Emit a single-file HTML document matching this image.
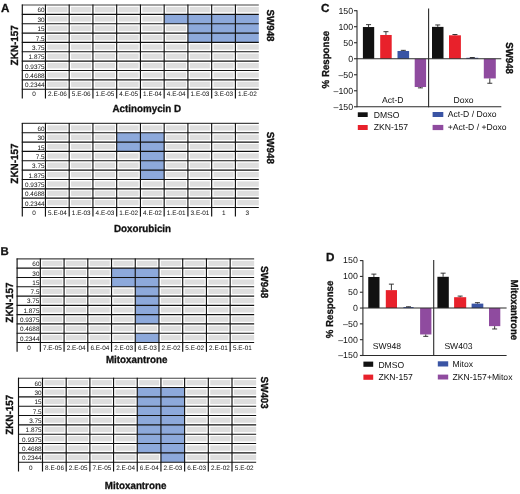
<!DOCTYPE html>
<html><head><meta charset="utf-8"><title>Figure</title>
<style>
html,body{margin:0;padding:0;background:#fff;}
body{width:520px;height:494px;overflow:hidden;}
svg{display:block;font-family:"Liberation Sans", Arial, sans-serif;text-rendering:geometricPrecision;}
</style></head><body>
<svg width="520" height="494" viewBox="0 0 520 494">
<rect width="520" height="494" fill="#fff"/>
<rect x="47.35" y="6.90" width="20.09" height="5.36" fill="#dedede"/>
<rect x="71.09" y="6.90" width="20.09" height="5.36" fill="#dedede"/>
<rect x="94.84" y="6.90" width="20.09" height="5.36" fill="#dedede"/>
<rect x="118.58" y="6.90" width="20.09" height="5.36" fill="#dedede"/>
<rect x="142.33" y="6.90" width="20.09" height="5.36" fill="#dedede"/>
<rect x="166.07" y="6.90" width="20.09" height="5.36" fill="#dedede"/>
<rect x="189.81" y="6.90" width="20.09" height="5.36" fill="#dedede"/>
<rect x="213.56" y="6.90" width="20.09" height="5.36" fill="#dedede"/>
<rect x="237.30" y="6.90" width="21.50" height="5.36" fill="#dedede"/>
<rect x="47.35" y="16.26" width="20.09" height="5.36" fill="#dedede"/>
<rect x="71.09" y="16.26" width="20.09" height="5.36" fill="#dedede"/>
<rect x="94.84" y="16.26" width="20.09" height="5.36" fill="#dedede"/>
<rect x="118.58" y="16.26" width="20.09" height="5.36" fill="#dedede"/>
<rect x="142.33" y="16.26" width="20.09" height="5.36" fill="#dedede"/>
<rect x="164.17" y="14.36" width="23.74" height="9.36" fill="#8da9db"/>
<rect x="187.91" y="14.36" width="23.74" height="9.36" fill="#8da9db"/>
<rect x="211.66" y="14.36" width="23.74" height="9.36" fill="#8da9db"/>
<rect x="235.40" y="14.36" width="23.40" height="9.36" fill="#8da9db"/>
<rect x="47.35" y="25.61" width="20.09" height="5.36" fill="#dedede"/>
<rect x="71.09" y="25.61" width="20.09" height="5.36" fill="#dedede"/>
<rect x="94.84" y="25.61" width="20.09" height="5.36" fill="#dedede"/>
<rect x="118.58" y="25.61" width="20.09" height="5.36" fill="#dedede"/>
<rect x="142.33" y="25.61" width="20.09" height="5.36" fill="#dedede"/>
<rect x="166.07" y="25.61" width="20.09" height="5.36" fill="#dedede"/>
<rect x="187.91" y="23.71" width="23.74" height="9.36" fill="#8da9db"/>
<rect x="211.66" y="23.71" width="23.74" height="9.36" fill="#8da9db"/>
<rect x="235.40" y="23.71" width="23.40" height="9.36" fill="#8da9db"/>
<rect x="47.35" y="34.97" width="20.09" height="5.36" fill="#dedede"/>
<rect x="71.09" y="34.97" width="20.09" height="5.36" fill="#dedede"/>
<rect x="94.84" y="34.97" width="20.09" height="5.36" fill="#dedede"/>
<rect x="118.58" y="34.97" width="20.09" height="5.36" fill="#dedede"/>
<rect x="142.33" y="34.97" width="20.09" height="5.36" fill="#dedede"/>
<rect x="166.07" y="34.97" width="20.09" height="5.36" fill="#dedede"/>
<rect x="187.91" y="33.07" width="23.74" height="9.36" fill="#8da9db"/>
<rect x="211.66" y="33.07" width="23.74" height="9.36" fill="#8da9db"/>
<rect x="235.40" y="33.07" width="23.40" height="9.36" fill="#8da9db"/>
<rect x="47.35" y="44.32" width="20.09" height="5.36" fill="#dedede"/>
<rect x="71.09" y="44.32" width="20.09" height="5.36" fill="#dedede"/>
<rect x="94.84" y="44.32" width="20.09" height="5.36" fill="#dedede"/>
<rect x="118.58" y="44.32" width="20.09" height="5.36" fill="#dedede"/>
<rect x="142.33" y="44.32" width="20.09" height="5.36" fill="#dedede"/>
<rect x="166.07" y="44.32" width="20.09" height="5.36" fill="#dedede"/>
<rect x="189.81" y="44.32" width="20.09" height="5.36" fill="#dedede"/>
<rect x="213.56" y="44.32" width="20.09" height="5.36" fill="#dedede"/>
<rect x="237.30" y="44.32" width="21.50" height="5.36" fill="#dedede"/>
<rect x="47.35" y="53.68" width="20.09" height="5.36" fill="#dedede"/>
<rect x="71.09" y="53.68" width="20.09" height="5.36" fill="#dedede"/>
<rect x="94.84" y="53.68" width="20.09" height="5.36" fill="#dedede"/>
<rect x="118.58" y="53.68" width="20.09" height="5.36" fill="#dedede"/>
<rect x="142.33" y="53.68" width="20.09" height="5.36" fill="#dedede"/>
<rect x="166.07" y="53.68" width="20.09" height="5.36" fill="#dedede"/>
<rect x="189.81" y="53.68" width="20.09" height="5.36" fill="#dedede"/>
<rect x="213.56" y="53.68" width="20.09" height="5.36" fill="#dedede"/>
<rect x="237.30" y="53.68" width="21.50" height="5.36" fill="#dedede"/>
<rect x="47.35" y="63.03" width="20.09" height="5.36" fill="#dedede"/>
<rect x="71.09" y="63.03" width="20.09" height="5.36" fill="#dedede"/>
<rect x="94.84" y="63.03" width="20.09" height="5.36" fill="#dedede"/>
<rect x="118.58" y="63.03" width="20.09" height="5.36" fill="#dedede"/>
<rect x="142.33" y="63.03" width="20.09" height="5.36" fill="#dedede"/>
<rect x="166.07" y="63.03" width="20.09" height="5.36" fill="#dedede"/>
<rect x="189.81" y="63.03" width="20.09" height="5.36" fill="#dedede"/>
<rect x="213.56" y="63.03" width="20.09" height="5.36" fill="#dedede"/>
<rect x="237.30" y="63.03" width="21.50" height="5.36" fill="#dedede"/>
<rect x="47.35" y="72.39" width="20.09" height="5.36" fill="#dedede"/>
<rect x="71.09" y="72.39" width="20.09" height="5.36" fill="#dedede"/>
<rect x="94.84" y="72.39" width="20.09" height="5.36" fill="#dedede"/>
<rect x="118.58" y="72.39" width="20.09" height="5.36" fill="#dedede"/>
<rect x="142.33" y="72.39" width="20.09" height="5.36" fill="#dedede"/>
<rect x="166.07" y="72.39" width="20.09" height="5.36" fill="#dedede"/>
<rect x="189.81" y="72.39" width="20.09" height="5.36" fill="#dedede"/>
<rect x="213.56" y="72.39" width="20.09" height="5.36" fill="#dedede"/>
<rect x="237.30" y="72.39" width="21.50" height="5.36" fill="#dedede"/>
<rect x="47.35" y="81.74" width="20.09" height="5.36" fill="#dedede"/>
<rect x="71.09" y="81.74" width="20.09" height="5.36" fill="#dedede"/>
<rect x="94.84" y="81.74" width="20.09" height="5.36" fill="#dedede"/>
<rect x="118.58" y="81.74" width="20.09" height="5.36" fill="#dedede"/>
<rect x="142.33" y="81.74" width="20.09" height="5.36" fill="#dedede"/>
<rect x="166.07" y="81.74" width="20.09" height="5.36" fill="#dedede"/>
<rect x="189.81" y="81.74" width="20.09" height="5.36" fill="#dedede"/>
<rect x="213.56" y="81.74" width="20.09" height="5.36" fill="#dedede"/>
<rect x="237.30" y="81.74" width="21.50" height="5.36" fill="#dedede"/>
<line x1="21.80" y1="5.00" x2="258.80" y2="5.00" stroke="#444" stroke-width="1.15"/>
<line x1="21.80" y1="14.36" x2="258.80" y2="14.36" stroke="#111" stroke-width="1.15"/>
<line x1="21.80" y1="23.71" x2="258.80" y2="23.71" stroke="#111" stroke-width="1.15"/>
<line x1="21.80" y1="33.07" x2="258.80" y2="33.07" stroke="#111" stroke-width="1.15"/>
<line x1="21.80" y1="42.42" x2="258.80" y2="42.42" stroke="#111" stroke-width="1.15"/>
<line x1="21.80" y1="51.78" x2="258.80" y2="51.78" stroke="#111" stroke-width="1.15"/>
<line x1="21.80" y1="61.13" x2="258.80" y2="61.13" stroke="#111" stroke-width="1.15"/>
<line x1="21.80" y1="70.49" x2="258.80" y2="70.49" stroke="#111" stroke-width="1.15"/>
<line x1="21.80" y1="79.84" x2="258.80" y2="79.84" stroke="#111" stroke-width="1.15"/>
<line x1="21.80" y1="89.20" x2="258.80" y2="89.20" stroke="#111" stroke-width="1.15"/>
<line x1="22.30" y1="4.50" x2="22.30" y2="98.50" stroke="#111" stroke-width="1.15"/>
<line x1="45.45" y1="4.50" x2="45.45" y2="98.50" stroke="#111" stroke-width="1.15"/>
<line x1="69.19" y1="4.50" x2="69.19" y2="98.50" stroke="#111" stroke-width="1.15"/>
<line x1="92.94" y1="4.50" x2="92.94" y2="98.50" stroke="#111" stroke-width="1.15"/>
<line x1="116.68" y1="4.50" x2="116.68" y2="98.50" stroke="#111" stroke-width="1.15"/>
<line x1="140.43" y1="4.50" x2="140.43" y2="98.50" stroke="#111" stroke-width="1.15"/>
<line x1="164.17" y1="4.50" x2="164.17" y2="98.50" stroke="#111" stroke-width="1.15"/>
<line x1="187.91" y1="4.50" x2="187.91" y2="98.50" stroke="#111" stroke-width="1.15"/>
<line x1="211.66" y1="4.50" x2="211.66" y2="98.50" stroke="#111" stroke-width="1.15"/>
<line x1="235.40" y1="4.50" x2="235.40" y2="98.50" stroke="#111" stroke-width="1.15"/>
<text x="44.55" y="12.46" font-size="6.4" text-anchor="end" fill="#111">60</text>
<text x="44.55" y="21.81" font-size="6.4" text-anchor="end" fill="#111">30</text>
<text x="44.55" y="31.17" font-size="6.4" text-anchor="end" fill="#111">15</text>
<text x="44.55" y="40.52" font-size="6.4" text-anchor="end" fill="#111">7.5</text>
<text x="44.55" y="49.88" font-size="6.4" text-anchor="end" fill="#111">3.75</text>
<text x="44.55" y="59.23" font-size="6.4" text-anchor="end" fill="#111">1.875</text>
<text x="44.55" y="68.59" font-size="6.4" text-anchor="end" fill="#111">0.9375</text>
<text x="44.55" y="77.94" font-size="6.4" text-anchor="end" fill="#111">0.4688</text>
<text x="44.55" y="87.30" font-size="6.4" text-anchor="end" fill="#111">0.2344</text>
<text x="34.08" y="96.30" font-size="6.4" text-anchor="middle" fill="#111">0</text>
<text x="57.52" y="96.30" font-size="6.4" text-anchor="middle" fill="#111">2.E-06</text>
<text x="81.27" y="96.30" font-size="6.4" text-anchor="middle" fill="#111">5.E-06</text>
<text x="105.01" y="96.30" font-size="6.4" text-anchor="middle" fill="#111">1.E-05</text>
<text x="128.75" y="96.30" font-size="6.4" text-anchor="middle" fill="#111">4.E-05</text>
<text x="152.50" y="96.30" font-size="6.4" text-anchor="middle" fill="#111">1.E-04</text>
<text x="176.24" y="96.30" font-size="6.4" text-anchor="middle" fill="#111">4.E-04</text>
<text x="199.98" y="96.30" font-size="6.4" text-anchor="middle" fill="#111">1.E-03</text>
<text x="223.73" y="96.30" font-size="6.4" text-anchor="middle" fill="#111">3.E-03</text>
<text x="247.30" y="96.30" font-size="6.4" text-anchor="middle" fill="#111">1.E-02</text>
<text transform="translate(267.30,9.40) rotate(90) scale(1.0,1.045)" font-size="9.8" font-weight="bold" stroke="#111" stroke-width="0.3" fill="#111">SW948</text>
<text transform="translate(17.90,45.35) rotate(-90) scale(1.0,1.045)" font-size="9.9" font-weight="bold" stroke="#111" stroke-width="0.3" text-anchor="middle" fill="#111">ZKN-157</text>
<text transform="translate(146.80,111.80) scale(1.0,1.045)" font-size="9.8" font-weight="bold" stroke="#111" stroke-width="0.3" text-anchor="middle" fill="#111">Actinomycin D</text>
<rect x="47.35" y="125.30" width="20.09" height="5.34" fill="#dedede"/>
<rect x="71.09" y="125.30" width="20.09" height="5.34" fill="#dedede"/>
<rect x="94.84" y="125.30" width="20.09" height="5.34" fill="#dedede"/>
<rect x="118.58" y="125.30" width="20.09" height="5.34" fill="#dedede"/>
<rect x="142.33" y="125.30" width="20.09" height="5.34" fill="#dedede"/>
<rect x="166.07" y="125.30" width="20.09" height="5.34" fill="#dedede"/>
<rect x="189.81" y="125.30" width="20.09" height="5.34" fill="#dedede"/>
<rect x="213.56" y="125.30" width="20.09" height="5.34" fill="#dedede"/>
<rect x="237.30" y="125.30" width="21.50" height="5.34" fill="#dedede"/>
<rect x="47.35" y="134.64" width="20.09" height="5.34" fill="#dedede"/>
<rect x="71.09" y="134.64" width="20.09" height="5.34" fill="#dedede"/>
<rect x="94.84" y="134.64" width="20.09" height="5.34" fill="#dedede"/>
<rect x="116.68" y="132.74" width="23.74" height="9.34" fill="#8da9db"/>
<rect x="140.43" y="132.74" width="23.74" height="9.34" fill="#8da9db"/>
<rect x="166.07" y="134.64" width="20.09" height="5.34" fill="#dedede"/>
<rect x="189.81" y="134.64" width="20.09" height="5.34" fill="#dedede"/>
<rect x="213.56" y="134.64" width="20.09" height="5.34" fill="#dedede"/>
<rect x="237.30" y="134.64" width="21.50" height="5.34" fill="#dedede"/>
<rect x="47.35" y="143.99" width="20.09" height="5.34" fill="#dedede"/>
<rect x="71.09" y="143.99" width="20.09" height="5.34" fill="#dedede"/>
<rect x="94.84" y="143.99" width="20.09" height="5.34" fill="#dedede"/>
<rect x="116.68" y="142.09" width="23.74" height="9.34" fill="#8da9db"/>
<rect x="140.43" y="142.09" width="23.74" height="9.34" fill="#8da9db"/>
<rect x="166.07" y="143.99" width="20.09" height="5.34" fill="#dedede"/>
<rect x="189.81" y="143.99" width="20.09" height="5.34" fill="#dedede"/>
<rect x="213.56" y="143.99" width="20.09" height="5.34" fill="#dedede"/>
<rect x="237.30" y="143.99" width="21.50" height="5.34" fill="#dedede"/>
<rect x="47.35" y="153.33" width="20.09" height="5.34" fill="#dedede"/>
<rect x="71.09" y="153.33" width="20.09" height="5.34" fill="#dedede"/>
<rect x="94.84" y="153.33" width="20.09" height="5.34" fill="#dedede"/>
<rect x="118.58" y="153.33" width="20.09" height="5.34" fill="#dedede"/>
<rect x="140.43" y="151.43" width="23.74" height="9.34" fill="#8da9db"/>
<rect x="166.07" y="153.33" width="20.09" height="5.34" fill="#dedede"/>
<rect x="189.81" y="153.33" width="20.09" height="5.34" fill="#dedede"/>
<rect x="213.56" y="153.33" width="20.09" height="5.34" fill="#dedede"/>
<rect x="237.30" y="153.33" width="21.50" height="5.34" fill="#dedede"/>
<rect x="47.35" y="162.68" width="20.09" height="5.34" fill="#dedede"/>
<rect x="71.09" y="162.68" width="20.09" height="5.34" fill="#dedede"/>
<rect x="94.84" y="162.68" width="20.09" height="5.34" fill="#dedede"/>
<rect x="118.58" y="162.68" width="20.09" height="5.34" fill="#dedede"/>
<rect x="140.43" y="160.78" width="23.74" height="9.34" fill="#8da9db"/>
<rect x="166.07" y="162.68" width="20.09" height="5.34" fill="#dedede"/>
<rect x="189.81" y="162.68" width="20.09" height="5.34" fill="#dedede"/>
<rect x="213.56" y="162.68" width="20.09" height="5.34" fill="#dedede"/>
<rect x="237.30" y="162.68" width="21.50" height="5.34" fill="#dedede"/>
<rect x="47.35" y="172.02" width="20.09" height="5.34" fill="#dedede"/>
<rect x="71.09" y="172.02" width="20.09" height="5.34" fill="#dedede"/>
<rect x="94.84" y="172.02" width="20.09" height="5.34" fill="#dedede"/>
<rect x="118.58" y="172.02" width="20.09" height="5.34" fill="#dedede"/>
<rect x="140.43" y="170.12" width="23.74" height="9.34" fill="#8da9db"/>
<rect x="166.07" y="172.02" width="20.09" height="5.34" fill="#dedede"/>
<rect x="189.81" y="172.02" width="20.09" height="5.34" fill="#dedede"/>
<rect x="213.56" y="172.02" width="20.09" height="5.34" fill="#dedede"/>
<rect x="237.30" y="172.02" width="21.50" height="5.34" fill="#dedede"/>
<rect x="47.35" y="181.37" width="20.09" height="5.34" fill="#dedede"/>
<rect x="71.09" y="181.37" width="20.09" height="5.34" fill="#dedede"/>
<rect x="94.84" y="181.37" width="20.09" height="5.34" fill="#dedede"/>
<rect x="118.58" y="181.37" width="20.09" height="5.34" fill="#dedede"/>
<rect x="142.33" y="181.37" width="20.09" height="5.34" fill="#dedede"/>
<rect x="166.07" y="181.37" width="20.09" height="5.34" fill="#dedede"/>
<rect x="189.81" y="181.37" width="20.09" height="5.34" fill="#dedede"/>
<rect x="213.56" y="181.37" width="20.09" height="5.34" fill="#dedede"/>
<rect x="237.30" y="181.37" width="21.50" height="5.34" fill="#dedede"/>
<rect x="47.35" y="190.71" width="20.09" height="5.34" fill="#dedede"/>
<rect x="71.09" y="190.71" width="20.09" height="5.34" fill="#dedede"/>
<rect x="94.84" y="190.71" width="20.09" height="5.34" fill="#dedede"/>
<rect x="118.58" y="190.71" width="20.09" height="5.34" fill="#dedede"/>
<rect x="142.33" y="190.71" width="20.09" height="5.34" fill="#dedede"/>
<rect x="166.07" y="190.71" width="20.09" height="5.34" fill="#dedede"/>
<rect x="189.81" y="190.71" width="20.09" height="5.34" fill="#dedede"/>
<rect x="213.56" y="190.71" width="20.09" height="5.34" fill="#dedede"/>
<rect x="237.30" y="190.71" width="21.50" height="5.34" fill="#dedede"/>
<rect x="47.35" y="200.06" width="20.09" height="5.34" fill="#dedede"/>
<rect x="71.09" y="200.06" width="20.09" height="5.34" fill="#dedede"/>
<rect x="94.84" y="200.06" width="20.09" height="5.34" fill="#dedede"/>
<rect x="118.58" y="200.06" width="20.09" height="5.34" fill="#dedede"/>
<rect x="142.33" y="200.06" width="20.09" height="5.34" fill="#dedede"/>
<rect x="166.07" y="200.06" width="20.09" height="5.34" fill="#dedede"/>
<rect x="189.81" y="200.06" width="20.09" height="5.34" fill="#dedede"/>
<rect x="213.56" y="200.06" width="20.09" height="5.34" fill="#dedede"/>
<rect x="237.30" y="200.06" width="21.50" height="5.34" fill="#dedede"/>
<line x1="21.80" y1="123.40" x2="258.80" y2="123.40" stroke="#444" stroke-width="1.15"/>
<line x1="21.80" y1="132.74" x2="258.80" y2="132.74" stroke="#111" stroke-width="1.15"/>
<line x1="21.80" y1="142.09" x2="258.80" y2="142.09" stroke="#111" stroke-width="1.15"/>
<line x1="21.80" y1="151.43" x2="258.80" y2="151.43" stroke="#111" stroke-width="1.15"/>
<line x1="21.80" y1="160.78" x2="258.80" y2="160.78" stroke="#111" stroke-width="1.15"/>
<line x1="21.80" y1="170.12" x2="258.80" y2="170.12" stroke="#111" stroke-width="1.15"/>
<line x1="21.80" y1="179.47" x2="258.80" y2="179.47" stroke="#111" stroke-width="1.15"/>
<line x1="21.80" y1="188.81" x2="258.80" y2="188.81" stroke="#111" stroke-width="1.15"/>
<line x1="21.80" y1="198.16" x2="258.80" y2="198.16" stroke="#111" stroke-width="1.15"/>
<line x1="21.80" y1="207.50" x2="258.80" y2="207.50" stroke="#111" stroke-width="1.15"/>
<line x1="22.30" y1="122.90" x2="22.30" y2="216.60" stroke="#111" stroke-width="1.15"/>
<line x1="45.45" y1="122.90" x2="45.45" y2="216.60" stroke="#111" stroke-width="1.15"/>
<line x1="69.19" y1="122.90" x2="69.19" y2="216.60" stroke="#111" stroke-width="1.15"/>
<line x1="92.94" y1="122.90" x2="92.94" y2="216.60" stroke="#111" stroke-width="1.15"/>
<line x1="116.68" y1="122.90" x2="116.68" y2="216.60" stroke="#111" stroke-width="1.15"/>
<line x1="140.43" y1="122.90" x2="140.43" y2="216.60" stroke="#111" stroke-width="1.15"/>
<line x1="164.17" y1="122.90" x2="164.17" y2="216.60" stroke="#111" stroke-width="1.15"/>
<line x1="187.91" y1="122.90" x2="187.91" y2="216.60" stroke="#111" stroke-width="1.15"/>
<line x1="211.66" y1="122.90" x2="211.66" y2="216.60" stroke="#111" stroke-width="1.15"/>
<line x1="235.40" y1="122.90" x2="235.40" y2="216.60" stroke="#111" stroke-width="1.15"/>
<text x="44.55" y="130.84" font-size="6.4" text-anchor="end" fill="#111">60</text>
<text x="44.55" y="140.19" font-size="6.4" text-anchor="end" fill="#111">30</text>
<text x="44.55" y="149.53" font-size="6.4" text-anchor="end" fill="#111">15</text>
<text x="44.55" y="158.88" font-size="6.4" text-anchor="end" fill="#111">7.5</text>
<text x="44.55" y="168.22" font-size="6.4" text-anchor="end" fill="#111">3.75</text>
<text x="44.55" y="177.57" font-size="6.4" text-anchor="end" fill="#111">1.875</text>
<text x="44.55" y="186.91" font-size="6.4" text-anchor="end" fill="#111">0.9375</text>
<text x="44.55" y="196.26" font-size="6.4" text-anchor="end" fill="#111">0.4688</text>
<text x="44.55" y="205.60" font-size="6.4" text-anchor="end" fill="#111">0.2344</text>
<text x="34.08" y="215.30" font-size="6.4" text-anchor="middle" fill="#111">0</text>
<text x="57.52" y="215.30" font-size="6.4" text-anchor="middle" fill="#111">5.E-04</text>
<text x="81.27" y="215.30" font-size="6.4" text-anchor="middle" fill="#111">1.E-03</text>
<text x="105.01" y="215.30" font-size="6.4" text-anchor="middle" fill="#111">4.E-03</text>
<text x="128.75" y="215.30" font-size="6.4" text-anchor="middle" fill="#111">1.E-02</text>
<text x="152.50" y="215.30" font-size="6.4" text-anchor="middle" fill="#111">4.E-02</text>
<text x="176.24" y="215.30" font-size="6.4" text-anchor="middle" fill="#111">1.E-01</text>
<text x="199.98" y="215.30" font-size="6.4" text-anchor="middle" fill="#111">3.E-01</text>
<text x="223.73" y="215.30" font-size="6.4" text-anchor="middle" fill="#111">1</text>
<text x="247.30" y="215.30" font-size="6.4" text-anchor="middle" fill="#111">3</text>
<text transform="translate(267.30,131.70) rotate(90) scale(1.0,1.045)" font-size="9.8" font-weight="bold" stroke="#111" stroke-width="0.3" fill="#111">SW948</text>
<text transform="translate(17.90,163.60) rotate(-90) scale(1.0,1.045)" font-size="9.9" font-weight="bold" stroke="#111" stroke-width="0.3" text-anchor="middle" fill="#111">ZKN-157</text>
<text transform="translate(142.50,232.40) scale(1.0,1.045)" font-size="9.8" font-weight="bold" stroke="#111" stroke-width="0.3" text-anchor="middle" fill="#111">Doxorubicin</text>
<rect x="42.25" y="260.80" width="20.08" height="5.29" fill="#dedede"/>
<rect x="65.98" y="260.80" width="20.08" height="5.29" fill="#dedede"/>
<rect x="89.70" y="260.80" width="20.07" height="5.29" fill="#dedede"/>
<rect x="113.43" y="260.80" width="20.07" height="5.29" fill="#dedede"/>
<rect x="137.15" y="260.80" width="20.07" height="5.29" fill="#dedede"/>
<rect x="160.88" y="260.80" width="20.08" height="5.29" fill="#dedede"/>
<rect x="184.60" y="260.80" width="20.07" height="5.29" fill="#dedede"/>
<rect x="208.33" y="260.80" width="20.07" height="5.29" fill="#dedede"/>
<rect x="232.05" y="260.80" width="22.10" height="5.29" fill="#dedede"/>
<rect x="42.25" y="270.09" width="20.08" height="5.29" fill="#dedede"/>
<rect x="65.98" y="270.09" width="20.08" height="5.29" fill="#dedede"/>
<rect x="89.70" y="270.09" width="20.07" height="5.29" fill="#dedede"/>
<rect x="111.53" y="268.19" width="23.72" height="9.29" fill="#8da9db"/>
<rect x="135.25" y="268.19" width="23.72" height="9.29" fill="#8da9db"/>
<rect x="160.88" y="270.09" width="20.08" height="5.29" fill="#dedede"/>
<rect x="184.60" y="270.09" width="20.07" height="5.29" fill="#dedede"/>
<rect x="208.33" y="270.09" width="20.07" height="5.29" fill="#dedede"/>
<rect x="232.05" y="270.09" width="22.10" height="5.29" fill="#dedede"/>
<rect x="42.25" y="279.38" width="20.08" height="5.29" fill="#dedede"/>
<rect x="65.98" y="279.38" width="20.08" height="5.29" fill="#dedede"/>
<rect x="89.70" y="279.38" width="20.07" height="5.29" fill="#dedede"/>
<rect x="111.53" y="277.48" width="23.72" height="9.29" fill="#8da9db"/>
<rect x="135.25" y="277.48" width="23.72" height="9.29" fill="#8da9db"/>
<rect x="160.88" y="279.38" width="20.08" height="5.29" fill="#dedede"/>
<rect x="184.60" y="279.38" width="20.07" height="5.29" fill="#dedede"/>
<rect x="208.33" y="279.38" width="20.07" height="5.29" fill="#dedede"/>
<rect x="232.05" y="279.38" width="22.10" height="5.29" fill="#dedede"/>
<rect x="42.25" y="288.67" width="20.08" height="5.29" fill="#dedede"/>
<rect x="65.98" y="288.67" width="20.08" height="5.29" fill="#dedede"/>
<rect x="89.70" y="288.67" width="20.07" height="5.29" fill="#dedede"/>
<rect x="113.43" y="288.67" width="20.07" height="5.29" fill="#dedede"/>
<rect x="135.25" y="286.77" width="23.72" height="9.29" fill="#8da9db"/>
<rect x="160.88" y="288.67" width="20.08" height="5.29" fill="#dedede"/>
<rect x="184.60" y="288.67" width="20.07" height="5.29" fill="#dedede"/>
<rect x="208.33" y="288.67" width="20.07" height="5.29" fill="#dedede"/>
<rect x="232.05" y="288.67" width="22.10" height="5.29" fill="#dedede"/>
<rect x="42.25" y="297.96" width="20.08" height="5.29" fill="#dedede"/>
<rect x="65.98" y="297.96" width="20.08" height="5.29" fill="#dedede"/>
<rect x="89.70" y="297.96" width="20.07" height="5.29" fill="#dedede"/>
<rect x="113.43" y="297.96" width="20.07" height="5.29" fill="#dedede"/>
<rect x="135.25" y="296.06" width="23.72" height="9.29" fill="#8da9db"/>
<rect x="160.88" y="297.96" width="20.08" height="5.29" fill="#dedede"/>
<rect x="184.60" y="297.96" width="20.07" height="5.29" fill="#dedede"/>
<rect x="208.33" y="297.96" width="20.07" height="5.29" fill="#dedede"/>
<rect x="232.05" y="297.96" width="22.10" height="5.29" fill="#dedede"/>
<rect x="42.25" y="307.24" width="20.08" height="5.29" fill="#dedede"/>
<rect x="65.98" y="307.24" width="20.08" height="5.29" fill="#dedede"/>
<rect x="89.70" y="307.24" width="20.07" height="5.29" fill="#dedede"/>
<rect x="113.43" y="307.24" width="20.07" height="5.29" fill="#dedede"/>
<rect x="135.25" y="305.34" width="23.72" height="9.29" fill="#8da9db"/>
<rect x="160.88" y="307.24" width="20.08" height="5.29" fill="#dedede"/>
<rect x="184.60" y="307.24" width="20.07" height="5.29" fill="#dedede"/>
<rect x="208.33" y="307.24" width="20.07" height="5.29" fill="#dedede"/>
<rect x="232.05" y="307.24" width="22.10" height="5.29" fill="#dedede"/>
<rect x="42.25" y="316.53" width="20.08" height="5.29" fill="#dedede"/>
<rect x="65.98" y="316.53" width="20.08" height="5.29" fill="#dedede"/>
<rect x="89.70" y="316.53" width="20.07" height="5.29" fill="#dedede"/>
<rect x="113.43" y="316.53" width="20.07" height="5.29" fill="#dedede"/>
<rect x="135.25" y="314.63" width="23.72" height="9.29" fill="#8da9db"/>
<rect x="160.88" y="316.53" width="20.08" height="5.29" fill="#dedede"/>
<rect x="184.60" y="316.53" width="20.07" height="5.29" fill="#dedede"/>
<rect x="208.33" y="316.53" width="20.07" height="5.29" fill="#dedede"/>
<rect x="232.05" y="316.53" width="22.10" height="5.29" fill="#dedede"/>
<rect x="42.25" y="325.82" width="20.08" height="5.29" fill="#dedede"/>
<rect x="65.98" y="325.82" width="20.08" height="5.29" fill="#dedede"/>
<rect x="89.70" y="325.82" width="20.07" height="5.29" fill="#dedede"/>
<rect x="113.43" y="325.82" width="20.07" height="5.29" fill="#dedede"/>
<rect x="137.15" y="325.82" width="20.07" height="5.29" fill="#dedede"/>
<rect x="160.88" y="325.82" width="20.08" height="5.29" fill="#dedede"/>
<rect x="184.60" y="325.82" width="20.07" height="5.29" fill="#dedede"/>
<rect x="208.33" y="325.82" width="20.07" height="5.29" fill="#dedede"/>
<rect x="232.05" y="325.82" width="22.10" height="5.29" fill="#dedede"/>
<rect x="42.25" y="335.11" width="20.08" height="5.29" fill="#dedede"/>
<rect x="65.98" y="335.11" width="20.08" height="5.29" fill="#dedede"/>
<rect x="89.70" y="335.11" width="20.07" height="5.29" fill="#dedede"/>
<rect x="113.43" y="335.11" width="20.07" height="5.29" fill="#dedede"/>
<rect x="135.25" y="333.21" width="23.72" height="9.29" fill="#8da9db"/>
<rect x="160.88" y="335.11" width="20.08" height="5.29" fill="#dedede"/>
<rect x="184.60" y="335.11" width="20.07" height="5.29" fill="#dedede"/>
<rect x="208.33" y="335.11" width="20.07" height="5.29" fill="#dedede"/>
<rect x="232.05" y="335.11" width="22.10" height="5.29" fill="#dedede"/>
<line x1="16.60" y1="258.90" x2="254.15" y2="258.90" stroke="#444" stroke-width="1.15"/>
<line x1="16.60" y1="268.19" x2="254.15" y2="268.19" stroke="#111" stroke-width="1.15"/>
<line x1="16.60" y1="277.48" x2="254.15" y2="277.48" stroke="#111" stroke-width="1.15"/>
<line x1="16.60" y1="286.77" x2="254.15" y2="286.77" stroke="#111" stroke-width="1.15"/>
<line x1="16.60" y1="296.06" x2="254.15" y2="296.06" stroke="#111" stroke-width="1.15"/>
<line x1="16.60" y1="305.34" x2="254.15" y2="305.34" stroke="#111" stroke-width="1.15"/>
<line x1="16.60" y1="314.63" x2="254.15" y2="314.63" stroke="#111" stroke-width="1.15"/>
<line x1="16.60" y1="323.92" x2="254.15" y2="323.92" stroke="#111" stroke-width="1.15"/>
<line x1="16.60" y1="333.21" x2="254.15" y2="333.21" stroke="#111" stroke-width="1.15"/>
<line x1="16.60" y1="342.50" x2="254.15" y2="342.50" stroke="#111" stroke-width="1.15"/>
<line x1="17.10" y1="258.40" x2="17.10" y2="351.80" stroke="#111" stroke-width="1.15"/>
<line x1="40.35" y1="258.40" x2="40.35" y2="351.80" stroke="#111" stroke-width="1.15"/>
<line x1="64.08" y1="258.40" x2="64.08" y2="351.80" stroke="#111" stroke-width="1.15"/>
<line x1="87.80" y1="258.40" x2="87.80" y2="351.80" stroke="#111" stroke-width="1.15"/>
<line x1="111.53" y1="258.40" x2="111.53" y2="351.80" stroke="#111" stroke-width="1.15"/>
<line x1="135.25" y1="258.40" x2="135.25" y2="351.80" stroke="#111" stroke-width="1.15"/>
<line x1="158.97" y1="258.40" x2="158.97" y2="351.80" stroke="#111" stroke-width="1.15"/>
<line x1="182.70" y1="258.40" x2="182.70" y2="351.80" stroke="#111" stroke-width="1.15"/>
<line x1="206.43" y1="258.40" x2="206.43" y2="351.80" stroke="#111" stroke-width="1.15"/>
<line x1="230.15" y1="258.40" x2="230.15" y2="351.80" stroke="#111" stroke-width="1.15"/>
<text x="39.45" y="266.29" font-size="6.4" text-anchor="end" fill="#111">60</text>
<text x="39.45" y="275.58" font-size="6.4" text-anchor="end" fill="#111">30</text>
<text x="39.45" y="284.87" font-size="6.4" text-anchor="end" fill="#111">15</text>
<text x="39.45" y="294.16" font-size="6.4" text-anchor="end" fill="#111">7.5</text>
<text x="39.45" y="303.44" font-size="6.4" text-anchor="end" fill="#111">3.75</text>
<text x="39.45" y="312.73" font-size="6.4" text-anchor="end" fill="#111">1.875</text>
<text x="39.45" y="322.02" font-size="6.4" text-anchor="end" fill="#111">0.9375</text>
<text x="39.45" y="331.31" font-size="6.4" text-anchor="end" fill="#111">0.4688</text>
<text x="39.45" y="340.60" font-size="6.4" text-anchor="end" fill="#111">0.2344</text>
<text x="28.93" y="349.60" font-size="6.4" text-anchor="middle" fill="#111">0</text>
<text x="52.41" y="349.60" font-size="6.4" text-anchor="middle" fill="#111">7.E-05</text>
<text x="76.14" y="349.60" font-size="6.4" text-anchor="middle" fill="#111">2.E-04</text>
<text x="99.86" y="349.60" font-size="6.4" text-anchor="middle" fill="#111">6.E-04</text>
<text x="123.59" y="349.60" font-size="6.4" text-anchor="middle" fill="#111">2.E-03</text>
<text x="147.31" y="349.60" font-size="6.4" text-anchor="middle" fill="#111">6.E-03</text>
<text x="171.04" y="349.60" font-size="6.4" text-anchor="middle" fill="#111">2.E-02</text>
<text x="194.76" y="349.60" font-size="6.4" text-anchor="middle" fill="#111">5.E-02</text>
<text x="218.49" y="349.60" font-size="6.4" text-anchor="middle" fill="#111">2.E-01</text>
<text x="242.35" y="349.60" font-size="6.4" text-anchor="middle" fill="#111">5.E-01</text>
<text transform="translate(261.20,266.00) rotate(90) scale(1.0,1.045)" font-size="9.8" font-weight="bold" stroke="#111" stroke-width="0.3" fill="#111">SW948</text>
<text transform="translate(12.70,302.60) rotate(-90) scale(1.0,1.045)" font-size="9.9" font-weight="bold" stroke="#111" stroke-width="0.3" text-anchor="middle" fill="#111">ZKN-157</text>
<text transform="translate(136.70,363.00) scale(1.0,1.045)" font-size="9.8" font-weight="bold" stroke="#111" stroke-width="0.3" text-anchor="middle" fill="#111">Mitoxantrone</text>
<rect x="44.40" y="380.10" width="20.04" height="5.33" fill="#dedede"/>
<rect x="68.09" y="380.10" width="20.04" height="5.33" fill="#dedede"/>
<rect x="91.78" y="380.10" width="20.04" height="5.33" fill="#dedede"/>
<rect x="115.46" y="380.10" width="20.04" height="5.33" fill="#dedede"/>
<rect x="139.15" y="380.10" width="20.04" height="5.33" fill="#dedede"/>
<rect x="162.84" y="380.10" width="20.04" height="5.33" fill="#dedede"/>
<rect x="186.53" y="380.10" width="20.04" height="5.33" fill="#dedede"/>
<rect x="210.21" y="380.10" width="20.04" height="5.33" fill="#dedede"/>
<rect x="233.90" y="380.10" width="22.25" height="5.33" fill="#dedede"/>
<rect x="44.40" y="389.43" width="20.04" height="5.33" fill="#dedede"/>
<rect x="68.09" y="389.43" width="20.04" height="5.33" fill="#dedede"/>
<rect x="91.78" y="389.43" width="20.04" height="5.33" fill="#dedede"/>
<rect x="115.46" y="389.43" width="20.04" height="5.33" fill="#dedede"/>
<rect x="137.25" y="387.53" width="23.69" height="9.33" fill="#8da9db"/>
<rect x="160.94" y="387.53" width="23.69" height="9.33" fill="#8da9db"/>
<rect x="186.53" y="389.43" width="20.04" height="5.33" fill="#dedede"/>
<rect x="210.21" y="389.43" width="20.04" height="5.33" fill="#dedede"/>
<rect x="233.90" y="389.43" width="22.25" height="5.33" fill="#dedede"/>
<rect x="44.40" y="398.77" width="20.04" height="5.33" fill="#dedede"/>
<rect x="68.09" y="398.77" width="20.04" height="5.33" fill="#dedede"/>
<rect x="91.78" y="398.77" width="20.04" height="5.33" fill="#dedede"/>
<rect x="115.46" y="398.77" width="20.04" height="5.33" fill="#dedede"/>
<rect x="137.25" y="396.87" width="23.69" height="9.33" fill="#8da9db"/>
<rect x="160.94" y="396.87" width="23.69" height="9.33" fill="#8da9db"/>
<rect x="186.53" y="398.77" width="20.04" height="5.33" fill="#dedede"/>
<rect x="210.21" y="398.77" width="20.04" height="5.33" fill="#dedede"/>
<rect x="233.90" y="398.77" width="22.25" height="5.33" fill="#dedede"/>
<rect x="44.40" y="408.10" width="20.04" height="5.33" fill="#dedede"/>
<rect x="68.09" y="408.10" width="20.04" height="5.33" fill="#dedede"/>
<rect x="91.78" y="408.10" width="20.04" height="5.33" fill="#dedede"/>
<rect x="115.46" y="408.10" width="20.04" height="5.33" fill="#dedede"/>
<rect x="137.25" y="406.20" width="23.69" height="9.33" fill="#8da9db"/>
<rect x="160.94" y="406.20" width="23.69" height="9.33" fill="#8da9db"/>
<rect x="186.53" y="408.10" width="20.04" height="5.33" fill="#dedede"/>
<rect x="210.21" y="408.10" width="20.04" height="5.33" fill="#dedede"/>
<rect x="233.90" y="408.10" width="22.25" height="5.33" fill="#dedede"/>
<rect x="44.40" y="417.43" width="20.04" height="5.33" fill="#dedede"/>
<rect x="68.09" y="417.43" width="20.04" height="5.33" fill="#dedede"/>
<rect x="91.78" y="417.43" width="20.04" height="5.33" fill="#dedede"/>
<rect x="115.46" y="417.43" width="20.04" height="5.33" fill="#dedede"/>
<rect x="137.25" y="415.53" width="23.69" height="9.33" fill="#8da9db"/>
<rect x="160.94" y="415.53" width="23.69" height="9.33" fill="#8da9db"/>
<rect x="186.53" y="417.43" width="20.04" height="5.33" fill="#dedede"/>
<rect x="210.21" y="417.43" width="20.04" height="5.33" fill="#dedede"/>
<rect x="233.90" y="417.43" width="22.25" height="5.33" fill="#dedede"/>
<rect x="44.40" y="426.77" width="20.04" height="5.33" fill="#dedede"/>
<rect x="68.09" y="426.77" width="20.04" height="5.33" fill="#dedede"/>
<rect x="91.78" y="426.77" width="20.04" height="5.33" fill="#dedede"/>
<rect x="115.46" y="426.77" width="20.04" height="5.33" fill="#dedede"/>
<rect x="137.25" y="424.87" width="23.69" height="9.33" fill="#8da9db"/>
<rect x="160.94" y="424.87" width="23.69" height="9.33" fill="#8da9db"/>
<rect x="186.53" y="426.77" width="20.04" height="5.33" fill="#dedede"/>
<rect x="210.21" y="426.77" width="20.04" height="5.33" fill="#dedede"/>
<rect x="233.90" y="426.77" width="22.25" height="5.33" fill="#dedede"/>
<rect x="44.40" y="436.10" width="20.04" height="5.33" fill="#dedede"/>
<rect x="68.09" y="436.10" width="20.04" height="5.33" fill="#dedede"/>
<rect x="91.78" y="436.10" width="20.04" height="5.33" fill="#dedede"/>
<rect x="115.46" y="436.10" width="20.04" height="5.33" fill="#dedede"/>
<rect x="137.25" y="434.20" width="23.69" height="9.33" fill="#8da9db"/>
<rect x="160.94" y="434.20" width="23.69" height="9.33" fill="#8da9db"/>
<rect x="186.53" y="436.10" width="20.04" height="5.33" fill="#dedede"/>
<rect x="210.21" y="436.10" width="20.04" height="5.33" fill="#dedede"/>
<rect x="233.90" y="436.10" width="22.25" height="5.33" fill="#dedede"/>
<rect x="44.40" y="445.43" width="20.04" height="5.33" fill="#dedede"/>
<rect x="68.09" y="445.43" width="20.04" height="5.33" fill="#dedede"/>
<rect x="91.78" y="445.43" width="20.04" height="5.33" fill="#dedede"/>
<rect x="115.46" y="445.43" width="20.04" height="5.33" fill="#dedede"/>
<rect x="137.25" y="443.53" width="23.69" height="9.33" fill="#8da9db"/>
<rect x="160.94" y="443.53" width="23.69" height="9.33" fill="#8da9db"/>
<rect x="186.53" y="445.43" width="20.04" height="5.33" fill="#dedede"/>
<rect x="210.21" y="445.43" width="20.04" height="5.33" fill="#dedede"/>
<rect x="233.90" y="445.43" width="22.25" height="5.33" fill="#dedede"/>
<rect x="44.40" y="454.77" width="20.04" height="5.33" fill="#dedede"/>
<rect x="68.09" y="454.77" width="20.04" height="5.33" fill="#dedede"/>
<rect x="91.78" y="454.77" width="20.04" height="5.33" fill="#dedede"/>
<rect x="115.46" y="454.77" width="20.04" height="5.33" fill="#dedede"/>
<rect x="139.15" y="454.77" width="20.04" height="5.33" fill="#dedede"/>
<rect x="160.94" y="452.87" width="23.69" height="9.33" fill="#8da9db"/>
<rect x="186.53" y="454.77" width="20.04" height="5.33" fill="#dedede"/>
<rect x="210.21" y="454.77" width="20.04" height="5.33" fill="#dedede"/>
<rect x="233.90" y="454.77" width="22.25" height="5.33" fill="#dedede"/>
<line x1="18.00" y1="378.20" x2="256.15" y2="378.20" stroke="#444" stroke-width="1.15"/>
<line x1="18.00" y1="387.53" x2="256.15" y2="387.53" stroke="#111" stroke-width="1.15"/>
<line x1="18.00" y1="396.87" x2="256.15" y2="396.87" stroke="#111" stroke-width="1.15"/>
<line x1="18.00" y1="406.20" x2="256.15" y2="406.20" stroke="#111" stroke-width="1.15"/>
<line x1="18.00" y1="415.53" x2="256.15" y2="415.53" stroke="#111" stroke-width="1.15"/>
<line x1="18.00" y1="424.87" x2="256.15" y2="424.87" stroke="#111" stroke-width="1.15"/>
<line x1="18.00" y1="434.20" x2="256.15" y2="434.20" stroke="#111" stroke-width="1.15"/>
<line x1="18.00" y1="443.53" x2="256.15" y2="443.53" stroke="#111" stroke-width="1.15"/>
<line x1="18.00" y1="452.87" x2="256.15" y2="452.87" stroke="#111" stroke-width="1.15"/>
<line x1="18.00" y1="462.20" x2="256.15" y2="462.20" stroke="#111" stroke-width="1.15"/>
<line x1="18.50" y1="377.70" x2="18.50" y2="471.50" stroke="#111" stroke-width="1.15"/>
<line x1="42.50" y1="377.70" x2="42.50" y2="471.50" stroke="#111" stroke-width="1.15"/>
<line x1="66.19" y1="377.70" x2="66.19" y2="471.50" stroke="#111" stroke-width="1.15"/>
<line x1="89.88" y1="377.70" x2="89.88" y2="471.50" stroke="#111" stroke-width="1.15"/>
<line x1="113.56" y1="377.70" x2="113.56" y2="471.50" stroke="#111" stroke-width="1.15"/>
<line x1="137.25" y1="377.70" x2="137.25" y2="471.50" stroke="#111" stroke-width="1.15"/>
<line x1="160.94" y1="377.70" x2="160.94" y2="471.50" stroke="#111" stroke-width="1.15"/>
<line x1="184.62" y1="377.70" x2="184.62" y2="471.50" stroke="#111" stroke-width="1.15"/>
<line x1="208.31" y1="377.70" x2="208.31" y2="471.50" stroke="#111" stroke-width="1.15"/>
<line x1="232.00" y1="377.70" x2="232.00" y2="471.50" stroke="#111" stroke-width="1.15"/>
<text x="41.60" y="385.63" font-size="6.4" text-anchor="end" fill="#111">60</text>
<text x="41.60" y="394.97" font-size="6.4" text-anchor="end" fill="#111">30</text>
<text x="41.60" y="404.30" font-size="6.4" text-anchor="end" fill="#111">15</text>
<text x="41.60" y="413.63" font-size="6.4" text-anchor="end" fill="#111">7.5</text>
<text x="41.60" y="422.97" font-size="6.4" text-anchor="end" fill="#111">3.75</text>
<text x="41.60" y="432.30" font-size="6.4" text-anchor="end" fill="#111">1.875</text>
<text x="41.60" y="441.63" font-size="6.4" text-anchor="end" fill="#111">0.9375</text>
<text x="41.60" y="450.97" font-size="6.4" text-anchor="end" fill="#111">0.4688</text>
<text x="41.60" y="460.30" font-size="6.4" text-anchor="end" fill="#111">0.2344</text>
<text x="30.70" y="469.50" font-size="6.4" text-anchor="middle" fill="#111">0</text>
<text x="54.54" y="469.50" font-size="6.4" text-anchor="middle" fill="#111">8.E-06</text>
<text x="78.23" y="469.50" font-size="6.4" text-anchor="middle" fill="#111">2.E-05</text>
<text x="101.92" y="469.50" font-size="6.4" text-anchor="middle" fill="#111">7.E-05</text>
<text x="125.61" y="469.50" font-size="6.4" text-anchor="middle" fill="#111">2.E-04</text>
<text x="149.29" y="469.50" font-size="6.4" text-anchor="middle" fill="#111">6.E-04</text>
<text x="172.98" y="469.50" font-size="6.4" text-anchor="middle" fill="#111">2.E-03</text>
<text x="196.67" y="469.50" font-size="6.4" text-anchor="middle" fill="#111">6.E-03</text>
<text x="220.36" y="469.50" font-size="6.4" text-anchor="middle" fill="#111">2.E-02</text>
<text x="244.27" y="469.50" font-size="6.4" text-anchor="middle" fill="#111">5.E-02</text>
<text transform="translate(261.20,376.60) rotate(90) scale(1.0,1.045)" font-size="9.8" font-weight="bold" stroke="#111" stroke-width="0.3" fill="#111">SW403</text>
<text transform="translate(12.70,414.80) rotate(-90) scale(1.0,1.045)" font-size="9.9" font-weight="bold" stroke="#111" stroke-width="0.3" text-anchor="middle" fill="#111">ZKN-157</text>
<text transform="translate(135.60,489.00) scale(1.0,1.045)" font-size="9.8" font-weight="bold" stroke="#111" stroke-width="0.3" text-anchor="middle" fill="#111">Mitoxantrone</text>
<text transform="translate(0.90,11.50)" font-size="11.7" font-weight="bold" stroke="#111" stroke-width="0.3" fill="#111">A</text>
<text transform="translate(0.50,254.50)" font-size="11.4" font-weight="bold" stroke="#111" stroke-width="0.3" fill="#111">B</text>
<text transform="translate(321.00,11.90)" font-size="11.7" font-weight="bold" stroke="#111" stroke-width="0.3" fill="#111">C</text>
<text transform="translate(326.10,261.30)" font-size="11.7" font-weight="bold" stroke="#111" stroke-width="0.3" fill="#111">D</text>
<rect x="362.90" y="27.04" width="11.30" height="31.71" fill="#111111"/>
<line x1="368.55" y1="27.04" x2="368.55" y2="24.63" stroke="#222" stroke-width="0.9"/>
<line x1="366.05" y1="24.63" x2="371.05" y2="24.63" stroke="#222" stroke-width="0.9"/>
<rect x="380.20" y="34.98" width="11.50" height="23.77" fill="#e8212b"/>
<line x1="385.95" y1="34.98" x2="385.95" y2="31.68" stroke="#222" stroke-width="0.9"/>
<line x1="383.45" y1="31.68" x2="388.45" y2="31.68" stroke="#222" stroke-width="0.9"/>
<rect x="397.50" y="50.99" width="11.60" height="7.75" fill="#3a54a4"/>
<line x1="403.30" y1="50.99" x2="403.30" y2="50.35" stroke="#222" stroke-width="0.9"/>
<line x1="400.80" y1="50.35" x2="405.80" y2="50.35" stroke="#222" stroke-width="0.9"/>
<rect x="414.70" y="58.74" width="11.40" height="28.28" fill="#8f4b9f"/>
<line x1="420.40" y1="87.03" x2="420.40" y2="87.86" stroke="#222" stroke-width="0.9"/>
<line x1="417.90" y1="87.86" x2="422.90" y2="87.86" stroke="#222" stroke-width="0.9"/>
<rect x="432.00" y="26.88" width="11.50" height="31.87" fill="#111111"/>
<line x1="437.75" y1="26.88" x2="437.75" y2="24.95" stroke="#222" stroke-width="0.9"/>
<line x1="435.25" y1="24.95" x2="440.25" y2="24.95" stroke="#222" stroke-width="0.9"/>
<rect x="449.00" y="35.30" width="11.90" height="23.45" fill="#e8212b"/>
<line x1="454.95" y1="35.30" x2="454.95" y2="34.53" stroke="#222" stroke-width="0.9"/>
<line x1="452.45" y1="34.53" x2="457.45" y2="34.53" stroke="#222" stroke-width="0.9"/>
<rect x="466.30" y="57.78" width="12.00" height="0.96" fill="#3a54a4"/>
<line x1="472.30" y1="57.78" x2="472.30" y2="57.53" stroke="#222" stroke-width="0.9"/>
<line x1="469.80" y1="57.53" x2="474.80" y2="57.53" stroke="#222" stroke-width="0.9"/>
<rect x="483.80" y="58.74" width="12.00" height="19.70" fill="#8f4b9f"/>
<line x1="489.80" y1="78.44" x2="489.80" y2="83.25" stroke="#222" stroke-width="0.9"/>
<line x1="487.30" y1="83.25" x2="492.30" y2="83.25" stroke="#222" stroke-width="0.9"/>
<line x1="357.00" y1="10.30" x2="357.00" y2="107.19" stroke="#2b2b2b" stroke-width="1.1"/>
<line x1="428.60" y1="8.50" x2="428.60" y2="107.19" stroke="#2b2b2b" stroke-width="1.1"/>
<line x1="357.00" y1="58.74" x2="501.30" y2="58.74" stroke="#2b2b2b" stroke-width="1.1"/>
<line x1="357.00" y1="106.79" x2="501.30" y2="106.79" stroke="#2b2b2b" stroke-width="1.1"/>
<line x1="354.00" y1="10.70" x2="357.00" y2="10.70" stroke="#2b2b2b" stroke-width="1.1"/>
<text x="353.10" y="13.55" font-size="8.8" text-anchor="end" fill="#111">150</text>
<line x1="354.00" y1="26.71" x2="357.00" y2="26.71" stroke="#2b2b2b" stroke-width="1.1"/>
<text x="353.10" y="29.56" font-size="8.8" text-anchor="end" fill="#111">100</text>
<line x1="354.00" y1="42.73" x2="357.00" y2="42.73" stroke="#2b2b2b" stroke-width="1.1"/>
<text x="353.10" y="45.58" font-size="8.8" text-anchor="end" fill="#111">50</text>
<line x1="354.00" y1="58.74" x2="357.00" y2="58.74" stroke="#2b2b2b" stroke-width="1.1"/>
<text x="353.10" y="61.59" font-size="8.8" text-anchor="end" fill="#111">0</text>
<line x1="354.00" y1="74.76" x2="357.00" y2="74.76" stroke="#2b2b2b" stroke-width="1.1"/>
<text x="353.10" y="77.61" font-size="8.8" text-anchor="end" fill="#111">–50</text>
<line x1="354.00" y1="90.77" x2="357.00" y2="90.77" stroke="#2b2b2b" stroke-width="1.1"/>
<text x="353.10" y="93.62" font-size="8.8" text-anchor="end" fill="#111">–100</text>
<line x1="354.00" y1="106.79" x2="357.00" y2="106.79" stroke="#2b2b2b" stroke-width="1.1"/>
<text x="353.10" y="109.64" font-size="8.8" text-anchor="end" fill="#111">–150</text>
<text transform="translate(328.50,59.60) rotate(-90) scale(1.0,1.045)" font-size="9.7" font-weight="bold" stroke="#111" stroke-width="0.3" text-anchor="middle" fill="#111">% Response</text>
<text x="382.00" y="102.80" font-size="8.6" fill="#111">Act-D</text>
<text x="453.50" y="102.80" font-size="8.6" fill="#111">Doxo</text>
<text transform="translate(506.30,42.20) rotate(90) scale(1.0,1.045)" font-size="9.7" font-weight="bold" stroke="#111" stroke-width="0.3" fill="#111">SW948</text>
<rect x="357.80" y="112.30" width="9.90" height="4.70" fill="#111111"/>
<text x="373.70" y="117.90" font-size="8.6" fill="#111">DMSO</text>
<rect x="357.80" y="125.00" width="9.90" height="5.00" fill="#e8212b"/>
<text x="373.70" y="130.30" font-size="8.6" fill="#111">ZKN-157</text>
<rect x="432.60" y="112.00" width="10.70" height="5.00" fill="#3a54a4"/>
<text x="447.80" y="117.00" font-size="8.6" fill="#111">Act-D / Doxo</text>
<rect x="432.60" y="124.90" width="10.70" height="5.20" fill="#8f4b9f"/>
<text x="447.80" y="129.70" font-size="8.6" fill="#111">+Act-D / +Doxo</text>
<rect x="368.25" y="276.98" width="11.25" height="31.06" fill="#111111"/>
<line x1="373.88" y1="276.98" x2="373.88" y2="274.11" stroke="#222" stroke-width="0.9"/>
<line x1="371.38" y1="274.11" x2="376.38" y2="274.11" stroke="#222" stroke-width="0.9"/>
<rect x="385.80" y="290.14" width="11.20" height="17.90" fill="#e8212b"/>
<line x1="391.40" y1="290.14" x2="391.40" y2="284.13" stroke="#222" stroke-width="0.9"/>
<line x1="388.90" y1="284.13" x2="393.90" y2="284.13" stroke="#222" stroke-width="0.9"/>
<rect x="403.40" y="307.10" width="10.20" height="0.95" fill="#3a54a4"/>
<line x1="408.50" y1="307.10" x2="408.50" y2="306.78" stroke="#222" stroke-width="0.9"/>
<line x1="406.00" y1="306.78" x2="411.00" y2="306.78" stroke="#222" stroke-width="0.9"/>
<rect x="420.10" y="308.05" width="11.30" height="26.41" fill="#8f4b9f"/>
<line x1="425.75" y1="334.46" x2="425.75" y2="336.35" stroke="#222" stroke-width="0.9"/>
<line x1="423.25" y1="336.35" x2="428.25" y2="336.35" stroke="#222" stroke-width="0.9"/>
<rect x="437.40" y="276.79" width="11.40" height="31.25" fill="#111111"/>
<line x1="443.10" y1="276.79" x2="443.10" y2="273.16" stroke="#222" stroke-width="0.9"/>
<line x1="440.60" y1="273.16" x2="445.60" y2="273.16" stroke="#222" stroke-width="0.9"/>
<rect x="454.10" y="297.20" width="12.10" height="10.85" fill="#e8212b"/>
<line x1="460.15" y1="297.20" x2="460.15" y2="296.09" stroke="#222" stroke-width="0.9"/>
<line x1="457.65" y1="296.09" x2="462.65" y2="296.09" stroke="#222" stroke-width="0.9"/>
<rect x="471.60" y="303.62" width="11.70" height="4.43" fill="#3a54a4"/>
<line x1="477.45" y1="303.62" x2="477.45" y2="302.67" stroke="#222" stroke-width="0.9"/>
<line x1="474.95" y1="302.67" x2="479.95" y2="302.67" stroke="#222" stroke-width="0.9"/>
<rect x="489.00" y="308.05" width="11.30" height="18.09" fill="#8f4b9f"/>
<line x1="494.65" y1="326.14" x2="494.65" y2="328.98" stroke="#222" stroke-width="0.9"/>
<line x1="492.15" y1="328.98" x2="497.15" y2="328.98" stroke="#222" stroke-width="0.9"/>
<line x1="362.90" y1="260.20" x2="362.90" y2="355.89" stroke="#2b2b2b" stroke-width="1.1"/>
<line x1="433.70" y1="259.90" x2="433.70" y2="355.89" stroke="#2b2b2b" stroke-width="1.1"/>
<line x1="362.90" y1="308.05" x2="506.60" y2="308.05" stroke="#2b2b2b" stroke-width="1.1"/>
<line x1="362.90" y1="355.49" x2="506.60" y2="355.49" stroke="#2b2b2b" stroke-width="1.1"/>
<line x1="359.90" y1="260.60" x2="362.90" y2="260.60" stroke="#2b2b2b" stroke-width="1.1"/>
<text x="357.80" y="263.45" font-size="8.8" text-anchor="end" fill="#111">150</text>
<line x1="359.90" y1="276.42" x2="362.90" y2="276.42" stroke="#2b2b2b" stroke-width="1.1"/>
<text x="357.80" y="279.27" font-size="8.8" text-anchor="end" fill="#111">100</text>
<line x1="359.90" y1="292.23" x2="362.90" y2="292.23" stroke="#2b2b2b" stroke-width="1.1"/>
<text x="357.80" y="295.08" font-size="8.8" text-anchor="end" fill="#111">50</text>
<line x1="359.90" y1="308.05" x2="362.90" y2="308.05" stroke="#2b2b2b" stroke-width="1.1"/>
<text x="357.80" y="310.90" font-size="8.8" text-anchor="end" fill="#111">0</text>
<line x1="359.90" y1="323.86" x2="362.90" y2="323.86" stroke="#2b2b2b" stroke-width="1.1"/>
<text x="357.80" y="326.71" font-size="8.8" text-anchor="end" fill="#111">–50</text>
<line x1="359.90" y1="339.68" x2="362.90" y2="339.68" stroke="#2b2b2b" stroke-width="1.1"/>
<text x="357.80" y="342.53" font-size="8.8" text-anchor="end" fill="#111">–100</text>
<line x1="359.90" y1="355.49" x2="362.90" y2="355.49" stroke="#2b2b2b" stroke-width="1.1"/>
<text x="357.80" y="358.34" font-size="8.8" text-anchor="end" fill="#111">–150</text>
<text transform="translate(333.30,309.45) rotate(-90) scale(1.0,1.045)" font-size="9.7" font-weight="bold" stroke="#111" stroke-width="0.3" text-anchor="middle" fill="#111">% Response</text>
<text x="372.80" y="349.20" font-size="8.6" fill="#111">SW948</text>
<text x="444.40" y="349.20" font-size="8.6" fill="#111">SW403</text>
<text transform="translate(511.20,279.40) rotate(90) scale(1.0,1.045)" font-size="9.7" font-weight="bold" stroke="#111" stroke-width="0.3" fill="#111">Mitoxantrone</text>
<rect x="363.40" y="361.60" width="9.80" height="5.20" fill="#111111"/>
<text x="378.40" y="367.70" font-size="8.6" fill="#111">DMSO</text>
<rect x="363.40" y="374.60" width="9.80" height="5.20" fill="#e8212b"/>
<text x="378.40" y="380.20" font-size="8.6" fill="#111">ZKN-157</text>
<rect x="437.80" y="361.30" width="10.40" height="5.20" fill="#3a54a4"/>
<text x="452.50" y="366.80" font-size="8.6" fill="#111">Mitox</text>
<rect x="437.80" y="374.60" width="10.40" height="4.90" fill="#8f4b9f"/>
<text x="452.50" y="379.50" font-size="8.6" fill="#111">ZKN-157+Mitox</text>
</svg>
</body></html>
